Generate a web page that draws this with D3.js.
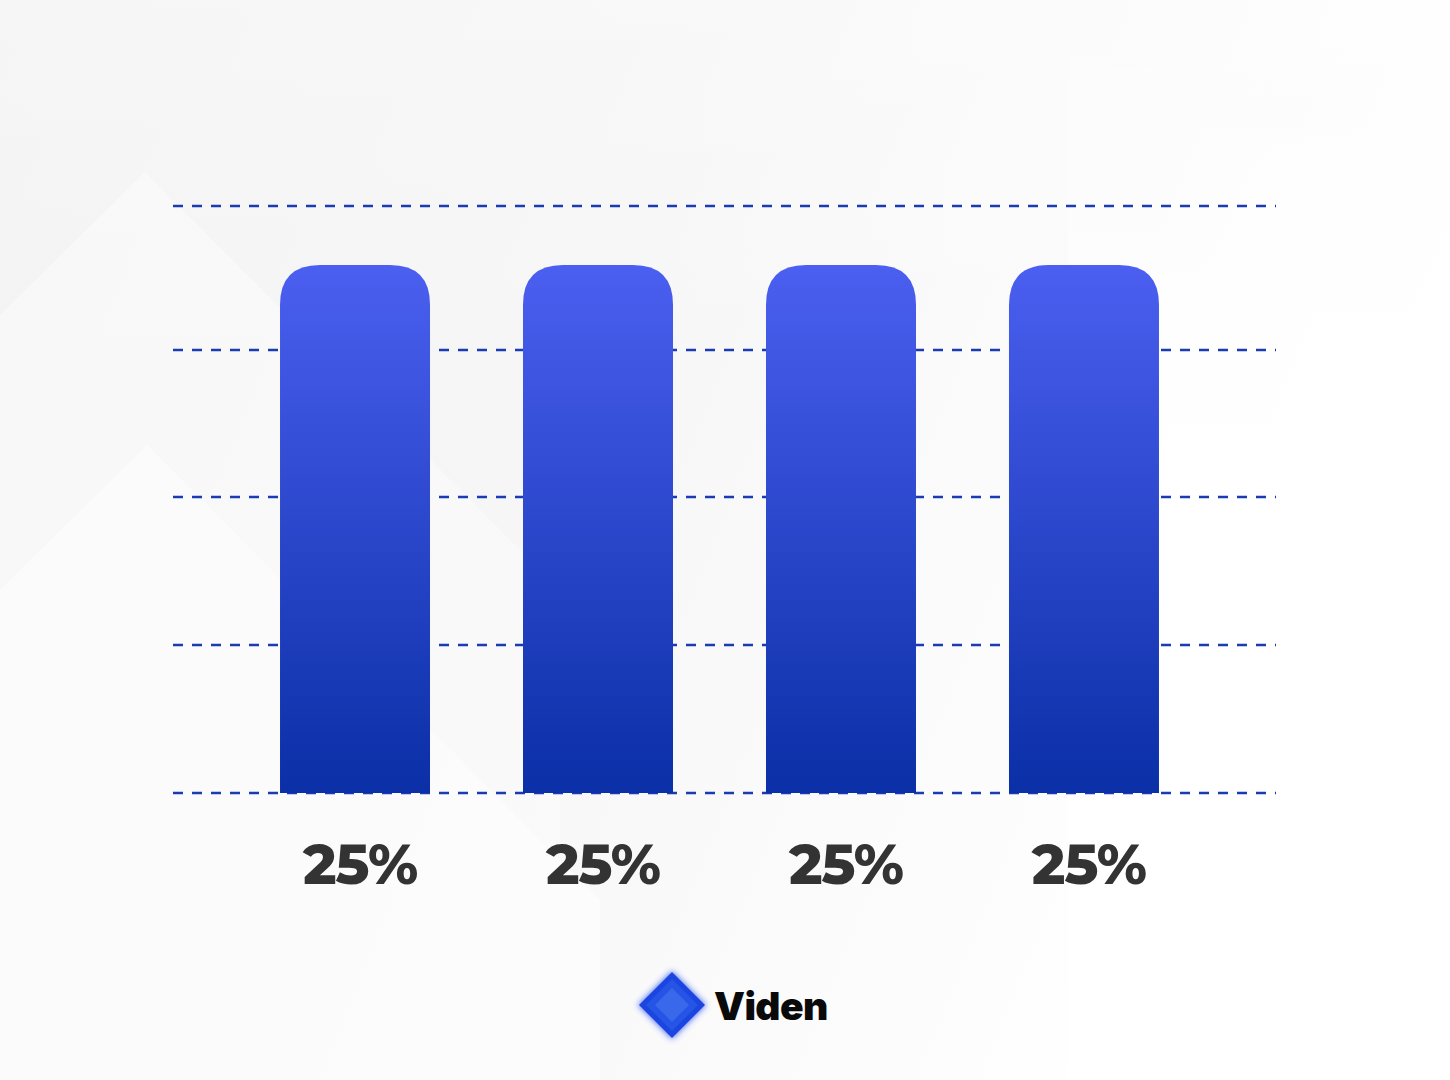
<!DOCTYPE html>
<html><head><meta charset="utf-8">
<script src="https://cdn.jsdelivr.net/npm/d3@7"></script>
<style>html,body{margin:0;padding:0;background:#fff;}svg{display:block;}</style>
</head><body>
<svg id="chart" width="1450" height="1080"></svg>
<script>
const categories = ["A", "B", "C", "D"];
const values = [25, 25, 25, 25];
const labels = ["25%", "25%", "25%", "25%"];
const gridTicks = [0, 7, 14, 21, 27.8];

const W = 1450, H = 1080;
const svg = d3.select("#chart");
const defs = svg.append("defs");

// background
const bg = defs.append("linearGradient").attr("id","bg").attr("x1","0").attr("y1","0").attr("x2","1").attr("y2","0.3");
bg.append("stop").attr("offset","0").attr("stop-color","#f2f2f2");
bg.append("stop").attr("offset","0.45").attr("stop-color","#f6f6f6");
bg.append("stop").attr("offset","0.75").attr("stop-color","#fbfbfb");
bg.append("stop").attr("offset","1").attr("stop-color","#ffffff");
svg.append("rect").attr("width",W).attr("height",H).attr("fill","url(#bg)");
const wg = defs.append("linearGradient").attr("id","wg").attr("x1","0").attr("y1","0").attr("x2","0").attr("y2","1");
wg.append("stop").attr("offset","0").attr("stop-color","#ffffff").attr("stop-opacity",0);
wg.append("stop").attr("offset","0.5").attr("stop-color","#ffffff").attr("stop-opacity",1);
svg.append("rect").attr("x",1068).attr("y",0).attr("width",W-1068).attr("height",H).attr("fill","url(#wg)");
const tg = defs.append("linearGradient").attr("id","tg").attr("x1","0").attr("y1","0").attr("x2","0").attr("y2","1");
tg.append("stop").attr("offset","0").attr("stop-color","#ffffff").attr("stop-opacity",0.3);
tg.append("stop").attr("offset","1").attr("stop-color","#ffffff").attr("stop-opacity",0);
svg.append("rect").attr("width",W).attr("height",400).attr("fill","url(#tg)");

const shapes = [
  [[0,590],[147,445],[600,900],[600,1080],[0,1080]],
  [[0,315],[145,172],[560,590],[560,1080],[0,1080]]
];
const shadeOp = [0.9, 0.55];
shapes.forEach((s,i)=>{
  svg.append("path").attr("d", d3.line()(s)+"Z").attr("fill","#fcfcfc").attr("opacity",shadeOp[i]);
});

// scales
const x = d3.scaleBand().domain(categories).range([168, 1271]).paddingInner(0.3827).paddingOuter(0.461);
const y = d3.scaleLinear().domain([0, 27.8]).range([793, 206]);

// gridlines
svg.append("g").selectAll("line").data(gridTicks).join("line")
  .attr("x1",173).attr("x2",1276)
  .attr("y1",d=>Math.round(y(d))).attr("y2",d=>Math.round(y(d)))
  .attr("stroke","#1a3bb3").attr("stroke-width",2.6)
  .attr("stroke-dasharray","10 9");

// bar gradient
const g = defs.append("linearGradient").attr("id","barGrad").attr("x1","0").attr("y1","0").attr("x2","0").attr("y2","1");
g.append("stop").attr("offset","0").attr("stop-color","#4b5ff0");
g.append("stop").attr("offset","1").attr("stop-color","#0a2fa6");

const r = 40;
svg.append("g").selectAll("path").data(values).join("path")
  .attr("fill","url(#barGrad)")
  .attr("d",(d,i)=>{
    const x0 = x(categories[i]), w = x.bandwidth(), y0 = y(d), y1 = y(0);
    return `M${x0},${y1} L${x0},${y0+r} Q${x0},${y0} ${x0+r},${y0} L${x0+w-r},${y0} Q${x0+w},${y0} ${x0+w},${y0+r} L${x0+w},${y1} Z`;
  });

// labels
svg.append("g").selectAll("text").data(labels).join("text")
  .attr("x",(d,i)=>x(categories[i])+x.bandwidth()/2+5)
  .attr("y",884)
  .attr("text-anchor","middle")
  .attr("font-family","Montserrat, 'Open Sans', sans-serif")
  .attr("font-weight",800)
  .attr("font-size",56)
  .attr("fill","#333333")
  .attr("letter-spacing","-1")
  .text(d=>d);

// logo
const lg = svg.append("g").attr("transform","translate(672,1005)");
const blur = defs.append("filter").attr("id","glow").attr("x","-50%").attr("y","-50%").attr("width","200%").attr("height","200%");
blur.append("feGaussianBlur").attr("stdDeviation",3);
lg.append("path").attr("d","M0,-34 L34,0 L0,34 L-34,0Z").attr("fill","#2a4ff0").attr("filter","url(#glow)").attr("opacity",0.8);
lg.append("path").attr("d","M0,-33 L33,0 L0,33 L-33,0Z").attr("fill","#1a45e0");
lg.append("path").attr("d","M0,-26 L26,0 L0,26 L-26,0Z").attr("fill","#2554e6");
lg.append("path").attr("d","M0,-17 L17,0 L0,17 L-17,0Z").attr("fill","#3a68ea");
svg.append("text").attr("x",714).attr("y",1020)
  .attr("font-family","Inter, 'Open Sans', sans-serif").attr("font-weight",900)
  .attr("font-size",39).attr("fill","#0a0a0a").attr("letter-spacing","-0.6").text("Viden");
</script>
</body></html>
